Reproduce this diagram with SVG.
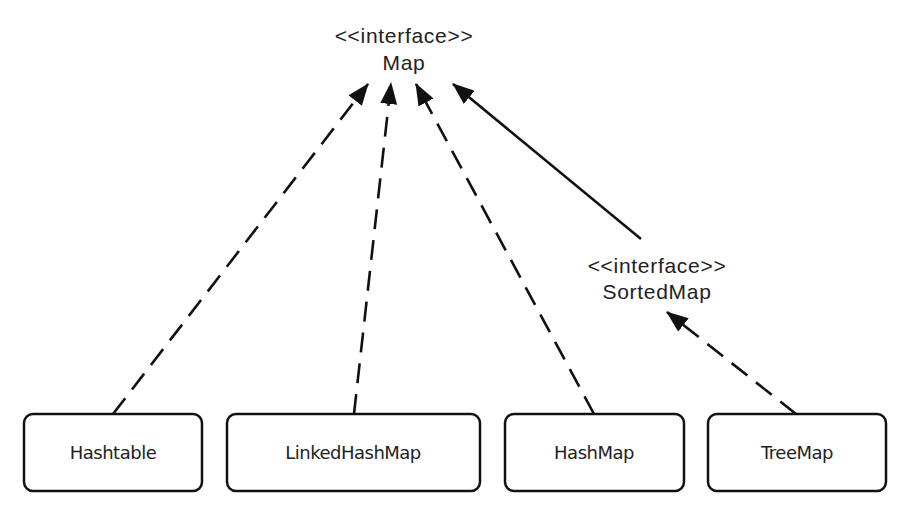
<svg xmlns="http://www.w3.org/2000/svg" width="916" height="518" viewBox="0 0 916 518">
<style>
.box{fill:#fff;stroke:#111;stroke-width:2.5}
.lbl{font-family:"Liberation Sans",Arial,sans-serif;font-size:21px;fill:#222;text-anchor:middle;letter-spacing:0.7px}
.nlbl{font-family:"DejaVu Sans","Liberation Sans",sans-serif;font-size:18px;fill:#222;text-anchor:middle;letter-spacing:-0.5px}
.dash{stroke:#111;stroke-width:2.6;fill:none;stroke-dasharray:20 11}
.solid{stroke:#111;stroke-width:2.6;fill:none}
</style>
<defs>
<marker id="arr" viewBox="0 0 22 17" refX="21" refY="8.5" markerWidth="22" markerHeight="17" markerUnits="userSpaceOnUse" orient="auto">
<path d="M0,0 L22,8.5 L0,17 Z" fill="#111"/>
</marker>
</defs>
<rect width="916" height="518" fill="#fff"/>
<g id="connectors">
<line class="dash" x1="113" y1="414" x2="368" y2="84" marker-end="url(#arr)"/>
<line class="dash" x1="354" y1="414" x2="391" y2="83" marker-end="url(#arr)"/>
<line class="dash" x1="594" y1="414" x2="416" y2="84" marker-end="url(#arr)"/>
<line class="solid" x1="641" y1="239" x2="453" y2="84" marker-end="url(#arr)"/>
<line class="dash" x1="796" y1="414" x2="667" y2="312" marker-end="url(#arr)"/>
</g>
<g id="map">
<text class="lbl" x="404" y="43">&lt;&lt;interface&gt;&gt;</text>
<text class="lbl" x="404" y="70">Map</text>
</g>
<g id="sortedmap">
<text class="lbl" x="657" y="273">&lt;&lt;interface&gt;&gt;</text>
<text class="lbl" x="657" y="299">SortedMap</text>
</g>
<g id="hashtable">
<rect class="box" x="24" y="414" width="178" height="77" rx="9"/>
<text class="nlbl" x="113" y="459">Hashtable</text>
</g>
<g id="linkedhashmap">
<rect class="box" x="227" y="414" width="253" height="77" rx="9"/>
<text class="nlbl" x="353" y="459">LinkedHashMap</text>
</g>
<g id="hashmap">
<rect class="box" x="505" y="414" width="179" height="77" rx="9"/>
<text class="nlbl" x="594" y="459">HashMap</text>
</g>
<g id="treemap">
<rect class="box" x="708" y="414" width="178" height="77" rx="9"/>
<text class="nlbl" x="797" y="459">TreeMap</text>
</g>
</svg>
